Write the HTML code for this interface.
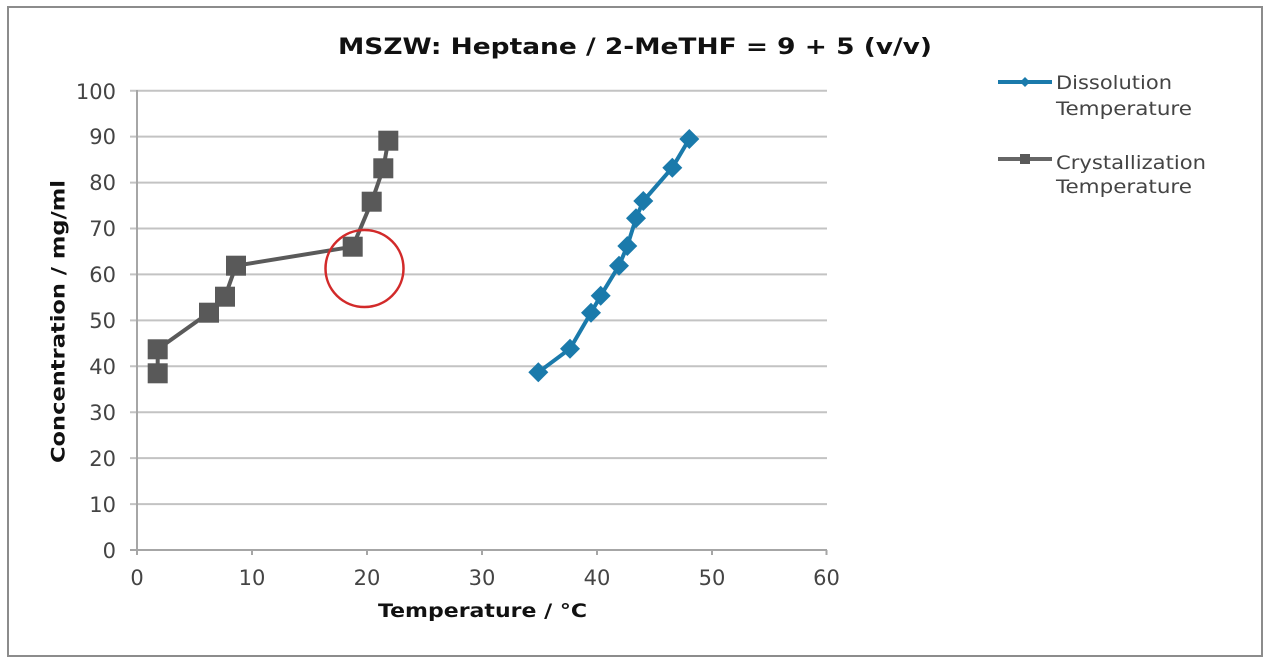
<!DOCTYPE html>
<html>
<head>
<meta charset="utf-8">
<style>
  html, body { margin:0; padding:0; background:#fff; }
  svg { display:block; }
</style>
</head>
<body>
<svg width="1270" height="665" viewBox="0 0 1270 665" xmlns="http://www.w3.org/2000/svg">
  <rect x="0" y="0" width="1270" height="665" fill="#ffffff"/>
  <rect x="8" y="7" width="1254" height="649" fill="#ffffff" stroke="#8c8c8c" stroke-width="2"/>

  <!-- Title -->
  <text x="635" y="54" text-anchor="middle" font-family="DejaVu Sans, Liberation Sans, sans-serif" font-weight="bold" font-size="22.5" fill="#111" textLength="594" lengthAdjust="spacingAndGlyphs">MSZW: Heptane / 2-MeTHF = 9 + 5 (v/v)</text>

  <!-- Gridlines -->
  <g stroke="#c3c3c3" stroke-width="2">
    <line x1="130" y1="504.1" x2="827" y2="504.1"/>
    <line x1="130" y1="458.1" x2="827" y2="458.1"/>
    <line x1="130" y1="412.2" x2="827" y2="412.2"/>
    <line x1="130" y1="366.3" x2="827" y2="366.3"/>
    <line x1="130" y1="320.4" x2="827" y2="320.4"/>
    <line x1="130" y1="274.4" x2="827" y2="274.4"/>
    <line x1="130" y1="228.5" x2="827" y2="228.5"/>
    <line x1="130" y1="182.6" x2="827" y2="182.6"/>
    <line x1="130" y1="136.6" x2="827" y2="136.6"/>
    <line x1="130" y1="90.7" x2="827" y2="90.7"/>
  </g>
  <!-- Axes -->
  <g stroke="#a6a6a6" stroke-width="2">
    <line x1="137" y1="90" x2="137" y2="555"/>
    <line x1="130" y1="550" x2="827" y2="550"/>
    <line x1="252" y1="550" x2="252" y2="555"/>
    <line x1="367" y1="550" x2="367" y2="555"/>
    <line x1="482" y1="550" x2="482" y2="555"/>
    <line x1="597" y1="550" x2="597" y2="555"/>
    <line x1="712" y1="550" x2="712" y2="555"/>
    <line x1="826.5" y1="550" x2="826.5" y2="555"/>
  </g>

  <!-- Y tick labels -->
  <g font-family="DejaVu Sans, Liberation Sans, sans-serif" font-size="21" fill="#444" text-anchor="end">
    <text x="116" y="558">0</text>
    <text x="116" y="512">10</text>
    <text x="116" y="466">20</text>
    <text x="116" y="420">30</text>
    <text x="116" y="374">40</text>
    <text x="116" y="328">50</text>
    <text x="116" y="282">60</text>
    <text x="116" y="236">70</text>
    <text x="116" y="190">80</text>
    <text x="116" y="144">90</text>
    <text x="116" y="99">100</text>
  </g>
  <!-- X tick labels -->
  <g font-family="DejaVu Sans, Liberation Sans, sans-serif" font-size="21" fill="#444" text-anchor="middle">
    <text x="137" y="585">0</text>
    <text x="252" y="585">10</text>
    <text x="367" y="585">20</text>
    <text x="482" y="585">30</text>
    <text x="597" y="585">40</text>
    <text x="712" y="585">50</text>
    <text x="826.5" y="585">60</text>
  </g>

  <!-- Axis titles -->
  <text x="482.5" y="617" text-anchor="middle" font-family="DejaVu Sans, Liberation Sans, sans-serif" font-weight="bold" font-size="19" fill="#111" textLength="209" lengthAdjust="spacingAndGlyphs">Temperature / °C</text>
  <text transform="translate(64.5,321.5) rotate(-90)" x="0" y="0" text-anchor="middle" font-family="DejaVu Sans, Liberation Sans, sans-serif" font-weight="bold" font-size="18.5" fill="#111" textLength="283" lengthAdjust="spacingAndGlyphs">Concentration / mg/ml</text>

  <!-- Crystallization series -->
  <polyline fill="none" stroke="#5a5a5a" stroke-width="4" stroke-linejoin="round"
    points="157.7,373.3 157.7,349.3 209,312.7 225,296.7 236,265.7 352.7,246.7 371.7,201.7 383.3,168.3 388.3,140.7"/>
  <g fill="#595959">
    <rect x="147.7" y="363.3" width="20" height="20"/>
    <rect x="147.7" y="339.3" width="20" height="20"/>
    <rect x="199" y="302.7" width="20" height="20"/>
    <rect x="215" y="286.7" width="20" height="20"/>
    <rect x="226" y="255.7" width="20" height="20"/>
    <rect x="342.7" y="236.7" width="20" height="20"/>
    <rect x="361.7" y="191.7" width="20" height="20"/>
    <rect x="373.3" y="158.3" width="20" height="20"/>
    <rect x="378.3" y="130.7" width="20" height="20"/>
  </g>

  <!-- Dissolution series -->
  <polyline fill="none" stroke="#1a7aab" stroke-width="4" stroke-linejoin="round"
    points="538.3,372.3 570,348.7 591,312.7 600.7,295.7 619,265.7 627.3,246 636,218.3 643.3,201 672.3,167.7 689.3,139"/>
  <g fill="#1a7aab">
    <polygon points="538.3,362.3 548.3,372.3 538.3,382.3 528.3,372.3"/>
    <polygon points="570,338.7 580,348.7 570,358.7 560,348.7"/>
    <polygon points="591,302.7 601,312.7 591,322.7 581,312.7"/>
    <polygon points="600.7,285.7 610.7,295.7 600.7,305.7 590.7,295.7"/>
    <polygon points="619,255.7 629,265.7 619,275.7 609,265.7"/>
    <polygon points="627.3,236 637.3,246 627.3,256 617.3,246"/>
    <polygon points="636,208.3 646,218.3 636,228.3 626,218.3"/>
    <polygon points="643.3,191 653.3,201 643.3,211 633.3,201"/>
    <polygon points="672.3,157.7 682.3,167.7 672.3,177.7 662.3,167.7"/>
    <polygon points="689.3,129 699.3,139 689.3,149 679.3,139"/>
  </g>

  <!-- Red circle annotation -->
  <ellipse cx="364.5" cy="268.5" rx="39" ry="38.5" fill="none" stroke="#d22a2a" stroke-width="2.5"/>

  <!-- Legend -->
  <line x1="998" y1="82" x2="1052" y2="82" stroke="#1a7aab" stroke-width="4"/>
  <polygon points="1025,77 1030,82 1025,87 1020,82" fill="#1a7aab"/>
  <line x1="998" y1="159" x2="1052" y2="159" stroke="#666" stroke-width="4"/>
  <rect x="1020" y="154" width="10" height="10" fill="#595959"/>
  <g font-family="DejaVu Sans, Liberation Sans, sans-serif" font-size="19" fill="#444">
    <text x="1056" y="89" textLength="116" lengthAdjust="spacingAndGlyphs">Dissolution</text>
    <text x="1056" y="115" textLength="136" lengthAdjust="spacingAndGlyphs">Temperature</text>
    <text x="1056" y="169" textLength="150" lengthAdjust="spacingAndGlyphs">Crystallization</text>
    <text x="1056" y="193" textLength="136" lengthAdjust="spacingAndGlyphs">Temperature</text>
  </g>
</svg>
</body>
</html>
